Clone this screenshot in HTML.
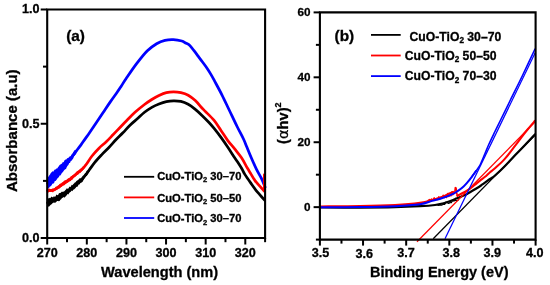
<!DOCTYPE html>
<html><head><meta charset="utf-8"><title>Absorbance and Tauc plot</title>
<style>html,body{margin:0;padding:0;background:#fff;}body{width:550px;height:285px;overflow:hidden;}svg{display:block;}text{font-family:"Liberation Sans",Arial,sans-serif;font-weight:bold;fill:#000;stroke:#000;stroke-width:0.3px;}</style>
</head><body>
<svg width="550" height="285" viewBox="0 0 550 285">
<rect x="0" y="0" width="550" height="285" fill="#fff"/>
<g fill="none" stroke-linejoin="round" stroke-linecap="round">
<path d="M47.60,202.80 C48.60,202.33 51.65,200.93 53.60,200.00 C55.55,199.07 57.42,198.30 59.30,197.20 C61.18,196.10 63.02,194.73 64.90,193.40 C66.78,192.07 68.70,190.70 70.60,189.20 C72.50,187.70 74.40,186.07 76.30,184.40 C78.20,182.73 80.38,180.87 82.00,179.20 C83.62,177.53 84.80,175.93 86.00,174.40 C87.20,172.87 87.73,172.02 89.20,170.00 C90.67,167.98 92.70,164.87 94.80,162.30 C96.90,159.73 99.45,157.07 101.80,154.60 C104.15,152.13 106.55,149.97 108.90,147.50 C111.25,145.03 113.57,142.25 115.90,139.80 C118.23,137.35 120.55,135.23 122.90,132.80 C125.25,130.37 127.60,127.53 130.00,125.20 C132.40,122.87 134.88,120.95 137.30,118.80 C139.72,116.65 142.08,114.22 144.50,112.30 C146.92,110.38 149.38,108.70 151.80,107.30 C154.22,105.90 156.57,104.85 159.00,103.90 C161.43,102.95 163.97,102.12 166.40,101.60 C168.83,101.08 171.18,100.83 173.60,100.80 C176.02,100.77 178.47,100.82 180.90,101.40 C183.33,101.98 185.85,103.02 188.20,104.30 C190.55,105.58 192.70,107.25 195.00,109.10 C197.30,110.95 199.67,113.17 202.00,115.40 C204.33,117.63 206.98,120.33 209.00,122.50 C211.02,124.67 212.10,125.92 214.10,128.40 C216.10,130.88 218.68,134.22 221.00,137.40 C223.32,140.58 225.75,144.15 228.00,147.50 C230.25,150.85 232.73,154.82 234.50,157.50 C236.27,160.18 237.35,161.68 238.60,163.60 C239.85,165.52 240.93,167.17 242.00,169.00 C243.07,170.83 243.37,172.02 245.00,174.60 C246.63,177.18 249.97,181.88 251.80,184.50 C253.63,187.12 254.68,188.62 256.00,190.30 C257.32,191.98 258.27,192.95 259.70,194.60 C261.13,196.25 263.78,199.27 264.60,200.20" stroke="#000" stroke-width="2.7"/>
<path d="M47.60,198.06 L48.40,198.56 L49.20,197.64 L50.00,198.33 L50.80,197.59 L51.60,196.54 L52.40,197.22 L53.20,197.30 L54.00,196.08 L54.80,196.91 L55.60,196.32 L56.40,194.58 L57.20,194.93 L58.00,195.26 L58.80,193.59 L59.60,193.10 L60.40,193.08 L61.20,192.36 L62.00,191.57 L62.80,192.11 L63.60,191.43 L64.40,191.19 L65.20,190.31 L66.00,189.50 L66.80,188.23 L67.60,188.82 L68.40,188.44 L69.20,187.09 L70.00,186.62 L70.80,186.93 L71.60,184.72 L72.40,185.16 L73.20,184.15 L74.00,183.58 L74.80,182.39 L75.60,182.27 L76.40,181.00 L77.20,180.60 L78.00,179.92 L78.80,179.19 L79.60,178.13 L80.40,178.59 L81.20,177.77 L82.00,177.44 L82.80,175.75 L83.60,175.74 L84.40,174.71 L85.20,173.00 L86.00,172.90 L86.80,170.71 L87.60,170.94 L88.40,170.14 L89.20,168.31 L90.00,167.67 L90.00,170.67 L89.20,171.94 L88.40,172.64 L87.60,174.41 L86.80,176.01 L86.00,176.06 L85.20,177.20 L84.40,178.59 L83.60,179.74 L82.80,181.38 L82.00,182.33 L81.20,182.68 L80.40,183.00 L79.60,184.50 L78.80,184.17 L78.00,185.76 L77.20,187.08 L76.40,186.67 L75.60,188.07 L74.80,188.71 L74.00,189.59 L73.20,189.84 L72.40,191.30 L71.60,190.52 L70.80,191.65 L70.00,192.31 L69.20,192.94 L68.40,194.43 L67.60,194.00 L66.80,195.10 L66.00,196.16 L65.20,196.87 L64.40,197.67 L63.60,197.12 L62.80,197.70 L62.00,197.93 L61.20,199.19 L60.40,199.84 L59.60,200.98 L58.80,201.25 L58.00,200.93 L57.20,200.92 L56.40,201.65 L55.60,202.50 L54.80,203.09 L54.00,202.37 L53.20,203.12 L52.40,203.37 L51.60,204.36 L50.80,204.65 L50.00,205.60 L49.20,206.55 L48.40,206.56 L47.60,207.40 Z" fill="#000" stroke="none"/>
<path d="M47.60,190.60 C48.60,190.52 51.65,190.80 53.60,190.10 C55.55,189.40 57.42,187.65 59.30,186.40 C61.18,185.15 63.02,183.87 64.90,182.60 C66.78,181.33 68.70,180.23 70.60,178.80 C72.50,177.37 74.40,175.58 76.30,174.00 C78.20,172.42 80.38,170.85 82.00,169.30 C83.62,167.75 84.33,166.92 86.00,164.70 C87.67,162.48 89.83,158.75 92.00,156.00 C94.17,153.25 96.67,150.53 99.00,148.20 C101.33,145.87 103.67,144.23 106.00,142.00 C108.33,139.77 110.67,137.22 113.00,134.80 C115.33,132.38 117.67,129.92 120.00,127.50 C122.33,125.08 124.50,122.83 127.00,120.30 C129.50,117.77 132.08,114.93 135.00,112.30 C137.92,109.67 141.70,106.63 144.50,104.50 C147.30,102.37 149.38,101.00 151.80,99.50 C154.22,98.00 156.57,96.65 159.00,95.50 C161.43,94.35 163.97,93.22 166.40,92.60 C168.83,91.98 171.18,91.80 173.60,91.80 C176.02,91.80 178.47,92.03 180.90,92.60 C183.33,93.17 185.80,93.87 188.20,95.20 C190.60,96.53 193.00,98.47 195.30,100.60 C197.60,102.73 200.38,106.25 202.00,108.00 C203.62,109.75 202.98,109.03 205.00,111.10 C207.02,113.17 211.43,117.17 214.10,120.40 C216.77,123.63 218.72,127.13 221.00,130.50 C223.28,133.87 225.52,137.53 227.80,140.60 C230.08,143.67 232.38,146.00 234.70,148.90 C237.02,151.80 239.57,154.77 241.70,158.00 C243.83,161.23 246.03,165.77 247.50,168.30 C248.97,170.83 249.25,171.15 250.50,173.20 C251.75,175.25 253.20,178.17 255.00,180.60 C256.80,183.03 259.77,186.07 261.30,187.80 C262.83,189.53 263.72,190.47 264.20,191.00" stroke="#f00" stroke-width="2.7"/>
<path d="M47.60,189.46 L48.40,188.44 L49.20,188.52 L50.00,188.91 L50.80,189.07 L51.60,189.06 L52.40,188.62 L53.20,188.63 L54.00,188.33 L54.80,187.96 L55.60,186.84 L56.40,186.83 L57.20,186.37 L58.00,185.85 L58.80,185.04 L59.60,184.05 L60.40,183.57 L61.20,183.67 L62.00,182.31 L62.80,182.29 L63.60,181.13 L64.40,180.57 L65.20,180.51 L66.00,179.88 L66.80,179.85 L67.60,178.77 L68.40,178.16 L69.20,177.88 L70.00,177.47 L70.80,176.32 L71.60,175.91 L72.40,175.29 L73.20,175.16 L74.00,173.94 L74.80,173.76 L75.60,172.74 L76.40,171.85 L77.20,171.05 L78.00,170.73 L78.80,170.19 L79.60,169.57 L80.40,168.63 L81.20,168.48 L82.00,167.75 L82.80,166.58 L83.60,166.21 L84.40,164.85 L85.20,164.18 L86.00,163.48 L86.00,166.52 L85.20,167.05 L84.40,168.43 L83.60,169.44 L82.80,170.28 L82.00,171.20 L81.20,171.83 L80.40,172.88 L79.60,172.77 L78.80,173.60 L78.00,174.86 L77.20,174.78 L76.40,175.77 L75.60,176.43 L74.80,176.91 L74.00,177.49 L73.20,178.57 L72.40,179.65 L71.60,179.81 L70.80,181.03 L70.00,181.13 L69.20,181.57 L68.40,182.26 L67.60,182.78 L66.80,183.04 L66.00,183.93 L65.20,184.32 L64.40,185.26 L63.60,185.39 L62.80,185.57 L62.00,186.74 L61.20,187.10 L60.40,187.75 L59.60,188.46 L58.80,188.63 L58.00,189.09 L57.20,189.80 L56.40,190.11 L55.60,190.23 L54.80,191.13 L54.00,191.10 L53.20,192.25 L52.40,192.31 L51.60,191.75 L50.80,191.72 L50.00,191.89 L49.20,191.71 L48.40,192.65 L47.60,191.84 Z" fill="#f00" stroke="none"/>
<path d="M47.60,183.20 C48.33,182.42 50.37,180.20 52.00,178.50 C53.63,176.80 55.90,174.55 57.40,173.00 C58.90,171.45 59.75,170.45 61.00,169.20 C62.25,167.95 63.30,167.27 64.90,165.50 C66.50,163.73 68.65,161.08 70.60,158.60 C72.55,156.12 74.90,152.85 76.60,150.60 C78.30,148.35 79.40,147.02 80.80,145.10 C82.20,143.18 83.55,141.15 85.00,139.10 C86.45,137.05 87.57,135.60 89.50,132.80 C91.43,130.00 94.30,125.72 96.60,122.30 C98.90,118.88 101.02,115.70 103.30,112.30 C105.58,108.90 107.97,105.28 110.30,101.90 C112.63,98.52 115.43,94.70 117.30,92.00 C119.17,89.30 120.05,87.90 121.50,85.70 C122.95,83.50 123.48,82.47 126.00,78.80 C128.52,75.13 133.08,68.33 136.60,63.70 C140.12,59.07 143.77,54.33 147.10,51.00 C150.43,47.67 153.62,45.48 156.60,43.70 C159.58,41.92 162.20,40.98 165.00,40.30 C167.80,39.62 170.60,39.48 173.40,39.60 C176.20,39.72 179.77,40.43 181.80,41.00 C183.83,41.57 184.27,42.27 185.60,43.00 C186.93,43.73 188.40,44.12 189.80,45.40 C191.20,46.68 192.58,48.87 194.00,50.70 C195.42,52.53 196.88,54.52 198.30,56.40 C199.72,58.28 201.10,60.10 202.50,62.00 C203.90,63.90 205.30,65.73 206.70,67.80 C208.10,69.87 209.60,72.22 210.90,74.40 C212.20,76.58 212.67,77.50 214.50,80.90 C216.33,84.30 219.45,89.95 221.90,94.80 C224.35,99.65 226.67,104.72 229.20,110.00 C231.73,115.28 234.72,121.67 237.10,126.50 C239.48,131.33 241.92,135.67 243.50,139.00 C245.08,142.33 245.27,143.28 246.60,146.50 C247.93,149.72 249.87,154.52 251.50,158.30 C253.13,162.08 254.77,165.88 256.40,169.20 C258.03,172.52 259.87,175.23 261.30,178.20 C262.73,181.17 264.38,185.53 265.00,187.00" stroke="#00f" stroke-width="2.75"/>
<path d="M47.60,177.56 L48.40,176.72 L49.20,175.40 L50.00,174.50 L50.80,173.10 L51.60,172.37 L52.40,171.23 L53.20,171.69 L54.00,170.59 L54.80,169.57 L55.60,169.59 L56.40,168.62 L57.20,168.43 L58.00,167.30 L58.80,166.21 L59.60,164.99 L60.40,164.52 L61.20,163.99 L62.00,163.41 L62.80,161.90 L63.60,162.37 L64.40,160.43 L65.20,159.60 L66.00,159.85 L66.80,158.70 L67.60,157.90 L68.40,158.07 L69.20,156.42 L70.00,156.65 L70.80,155.97 L71.60,154.58 L72.40,153.79 L73.20,152.14 L74.00,151.06 L74.80,150.12 L75.60,150.44 L76.40,149.77 L76.40,153.32 L75.60,154.62 L74.80,155.58 L74.00,156.12 L73.20,158.38 L72.40,159.58 L71.60,160.79 L70.80,160.82 L70.00,162.88 L69.20,163.01 L68.40,165.01 L67.60,165.77 L66.80,167.10 L66.00,169.12 L65.20,169.34 L64.40,170.03 L63.60,171.09 L62.80,172.20 L62.00,172.83 L61.20,174.18 L60.40,175.59 L59.60,175.39 L58.80,177.36 L58.00,177.76 L57.20,178.69 L56.40,180.12 L55.60,181.03 L54.80,181.04 L54.00,183.22 L53.20,183.62 L52.40,183.87 L51.60,185.34 L50.80,186.14 L50.00,186.39 L49.20,187.73 L48.40,187.94 L47.60,190.31 Z" fill="#00f" stroke="none"/>
<path d="M263.9,174.5 L263.9,190.5" stroke="#f00" stroke-width="1.8"/>
</g>
<g stroke="#000" stroke-width="2.1" fill="none" stroke-linecap="square">
<path d="M47.2,9.5 H265.1 V238.0 H47.2 Z"/>
</g>
<g stroke="#000" stroke-width="2" fill="none">
<line x1="47.20" y1="238.00" x2="47.20" y2="244.50"/>
<line x1="67.01" y1="238.00" x2="67.01" y2="242.20"/>
<line x1="86.82" y1="238.00" x2="86.82" y2="244.50"/>
<line x1="106.63" y1="238.00" x2="106.63" y2="242.20"/>
<line x1="126.44" y1="238.00" x2="126.44" y2="244.50"/>
<line x1="146.25" y1="238.00" x2="146.25" y2="242.20"/>
<line x1="166.05" y1="238.00" x2="166.05" y2="244.50"/>
<line x1="185.86" y1="238.00" x2="185.86" y2="242.20"/>
<line x1="205.67" y1="238.00" x2="205.67" y2="244.50"/>
<line x1="225.48" y1="238.00" x2="225.48" y2="242.20"/>
<line x1="245.29" y1="238.00" x2="245.29" y2="244.50"/>
<line x1="265.10" y1="238.00" x2="265.10" y2="242.20"/>
<line x1="47.20" y1="238.00" x2="40.70" y2="238.00"/>
<line x1="47.20" y1="180.88" x2="43.00" y2="180.88"/>
<line x1="47.20" y1="123.75" x2="40.70" y2="123.75"/>
<line x1="47.20" y1="66.62" x2="43.00" y2="66.62"/>
<line x1="47.20" y1="9.50" x2="40.70" y2="9.50"/>
</g>
<g font-size="12.6" text-anchor="end">
<text x="39.4" y="241.90">0.0</text>
<text x="39.4" y="127.65">0.5</text>
<text x="39.4" y="13.40">1.0</text>
</g>
<g font-size="12.6" text-anchor="middle">
<text x="47.20" y="257">270</text>
<text x="86.82" y="257">280</text>
<text x="126.44" y="257">290</text>
<text x="166.05" y="257">300</text>
<text x="205.67" y="257">310</text>
<text x="245.29" y="257">320</text>
</g>
<text x="159.6" y="277.2" font-size="14.6" text-anchor="middle">Wavelength (nm)</text>
<text transform="translate(17.4,130.7) rotate(-90)" font-size="15" text-anchor="middle">Absorbance (a.u)</text>
<text x="66.2" y="41.3" font-size="15.4">(a)</text>
<line x1="124" y1="176.8" x2="154.2" y2="176.8" stroke="#000" stroke-width="1.8"/>
<text x="157.2" y="179.9" font-size="11.2">CuO-TiO<tspan font-size="7.6" dy="2.4">2</tspan><tspan dy="-2.4"> 30–70</tspan></text>
<line x1="124" y1="197.4" x2="154.2" y2="197.4" stroke="#f00" stroke-width="1.8"/>
<text x="157.2" y="201.6" font-size="11.2">CuO-TiO<tspan font-size="7.6" dy="2.4">2</tspan><tspan dy="-2.4"> 50–50</tspan></text>
<line x1="124" y1="218.0" x2="154.2" y2="218.0" stroke="#00f" stroke-width="1.8"/>
<text x="157.2" y="222.2" font-size="11.2">CuO-TiO<tspan font-size="7.6" dy="2.4">2</tspan><tspan dy="-2.4"> 30–70</tspan></text>
<g fill="none" stroke-linejoin="round" stroke-linecap="round">
<path d="M320.80,207.50 C327.33,207.52 347.63,207.65 360.00,207.60 C372.37,207.55 385.00,207.43 395.00,207.20 C405.00,206.97 413.33,206.57 420.00,206.20 C426.67,205.83 431.25,205.45 435.00,205.00 C438.75,204.55 439.50,204.33 442.50,203.50 C445.50,202.67 450.72,200.82 453.00,200.00 C455.28,199.18 454.43,199.35 456.20,198.60 C457.97,197.85 461.80,196.28 463.60,195.50 C465.40,194.72 465.93,194.43 467.00,193.90 C468.07,193.37 468.67,193.07 470.00,192.30 C471.33,191.53 473.17,190.43 475.00,189.30 C476.83,188.17 478.50,187.22 481.00,185.50 C483.50,183.78 487.67,180.67 490.00,179.00 C492.33,177.33 492.50,177.67 495.00,175.50 C497.50,173.33 501.67,169.38 505.00,166.00 C508.33,162.62 511.67,158.70 515.00,155.20 C518.33,151.70 521.67,148.48 525.00,145.00 C528.33,141.52 533.33,136.08 535.00,134.30" stroke="#000" stroke-width="2.2"/>
<path d="M320.80,206.50 C327.33,206.45 347.63,206.43 360.00,206.20 C372.37,205.97 385.00,205.65 395.00,205.10 C405.00,204.55 413.83,203.72 420.00,202.90 C426.17,202.08 428.25,201.22 432.00,200.20 C435.75,199.18 439.87,197.80 442.50,196.80 C445.13,195.80 446.05,195.00 447.80,194.20 C449.55,193.40 452.13,192.37 453.00,192.00" stroke="#f00" stroke-width="2.2"/>
<path d="M457.30,195.60 C457.75,195.40 458.95,194.92 460.00,194.40 C461.05,193.88 462.43,193.13 463.60,192.50 C464.77,191.87 465.93,191.25 467.00,190.60 C468.07,189.95 468.67,189.60 470.00,188.60 C471.33,187.60 473.33,185.93 475.00,184.60 C476.67,183.27 478.33,181.90 480.00,180.60 C481.67,179.30 483.33,178.20 485.00,176.80 C486.67,175.40 488.33,173.63 490.00,172.20 C491.67,170.77 492.50,170.47 495.00,168.20 C497.50,165.93 501.67,162.33 505.00,158.60 C508.33,154.87 512.23,149.40 515.00,145.80 C517.77,142.20 519.43,139.80 521.60,137.00 C523.77,134.20 525.77,131.70 528.00,129.00 C530.23,126.30 533.83,122.17 535.00,120.80" stroke="#f00" stroke-width="2.1"/>
<path d="M428,200.6 L429.4,199.6 L430.4,200.5 L431.6,199.0 L432.8,200.2 L434.2,197.9 L435.4,199.7 L436.2,198.6 L437.4,199.5 L438.8,196.8 L439.8,198.9 L441.0,197.6 L442.2,198.2 L443.2,195.2 L444.2,197.6 L445.6,196.4 L446.6,197.4 L447.8,193.4 L448.8,196.4 L450.0,195.0 L451.0,195.8 L452.0,191.8 L452.8,194.8 L453.8,192.6 L454.6,193.4 L455.3,187.6 L456.1,187.9 L456.8,193.8 L457.6,196.2 L459,195.2" stroke="#f00" stroke-width="1.5"/>
<path d="M438.00,205.29 L439.33,205.26 L440.67,205.07 L442.00,205.10 L443.33,204.30 L444.67,204.41 L446.00,201.95 L447.33,202.68 L448.67,203.50 L450.00,202.48 L451.33,202.76 L452.67,200.55 L454.00,201.09 L455.33,200.23 L456.67,200.63 L458.00,200.38" stroke="#000" stroke-width="1.2"/>
<path d="M320.80,207.30 C327.33,207.27 347.63,207.28 360.00,207.10 C372.37,206.92 385.00,206.68 395.00,206.20 C405.00,205.72 413.83,205.08 420.00,204.20 C426.17,203.32 428.25,201.93 432.00,200.90 C435.75,199.87 439.00,199.17 442.50,198.00 C446.00,196.83 450.37,195.13 453.00,193.90 C455.63,192.67 456.53,191.85 458.30,190.60 C460.07,189.35 462.05,187.82 463.60,186.40 C465.15,184.98 466.23,183.70 467.60,182.10 C468.97,180.50 470.40,178.65 471.80,176.80 C473.20,174.95 475.30,171.97 476.00,171.00" stroke="#00f" stroke-width="2.0"/>
<path d="M471.80,176.80 C472.50,175.83 474.58,173.05 476.00,171.00 C477.42,168.95 478.83,167.33 480.30,164.50 C481.77,161.67 483.35,157.42 484.80,154.00 C486.25,150.58 487.35,147.67 489.00,144.00 C490.65,140.33 492.77,136.00 494.70,132.00 C496.63,128.00 497.98,125.33 500.60,120.00 C503.22,114.67 506.75,107.42 510.40,100.00 C514.05,92.58 518.40,84.00 522.50,75.50 C526.60,67.00 532.92,53.42 535.00,49.00" stroke="#00f" stroke-width="1.6"/>
</g>
<g fill="none" stroke-width="1.25">
<path d="M433.20,238.80 L535.20,135.00" stroke="#000"/>
<path d="M417.00,241.80 L535.20,121.80" stroke="#f00"/>
<path d="M445.00,238.80 L535.20,52.80" stroke="#00f"/>
</g>
<g stroke="#000" stroke-width="2.1" fill="none" stroke-linecap="square">
<path d="M319.9,12.4 H535.6 V239.6 H319.9 Z"/>
</g>
<g stroke="#000" stroke-width="2" fill="none">
<line x1="319.90" y1="239.60" x2="319.90" y2="245.60"/>
<line x1="341.47" y1="239.60" x2="341.47" y2="243.60"/>
<line x1="363.04" y1="239.60" x2="363.04" y2="245.60"/>
<line x1="384.61" y1="239.60" x2="384.61" y2="243.60"/>
<line x1="406.18" y1="239.60" x2="406.18" y2="245.60"/>
<line x1="427.75" y1="239.60" x2="427.75" y2="243.60"/>
<line x1="449.32" y1="239.60" x2="449.32" y2="245.60"/>
<line x1="470.89" y1="239.60" x2="470.89" y2="243.60"/>
<line x1="492.46" y1="239.60" x2="492.46" y2="245.60"/>
<line x1="514.03" y1="239.60" x2="514.03" y2="243.60"/>
<line x1="535.60" y1="239.60" x2="535.60" y2="245.60"/>
<line x1="319.90" y1="239.60" x2="315.90" y2="239.60"/>
<line x1="319.90" y1="207.14" x2="313.60" y2="207.14"/>
<line x1="319.90" y1="174.69" x2="315.90" y2="174.69"/>
<line x1="319.90" y1="142.23" x2="313.60" y2="142.23"/>
<line x1="319.90" y1="109.77" x2="315.90" y2="109.77"/>
<line x1="319.90" y1="77.31" x2="313.60" y2="77.31"/>
<line x1="319.90" y1="44.86" x2="315.90" y2="44.86"/>
<line x1="319.90" y1="12.40" x2="313.60" y2="12.40"/>
</g>
<g font-size="11.7" text-anchor="end">
<text x="310.6" y="211.04">0</text>
<text x="310.6" y="146.13">20</text>
<text x="310.6" y="81.21">40</text>
<text x="310.6" y="16.30">60</text>
</g>
<g font-size="12.6" text-anchor="middle">
<text x="320.60" y="257.20">3.5</text>
<text x="364.20" y="258.40">3.6</text>
<text x="406.10" y="257.20">3.7</text>
<text x="451.20" y="257.20">3.8</text>
<text x="492.30" y="257.20">3.9</text>
<text x="534.80" y="257.20">4.0</text>
</g>
<text x="439.2" y="277" font-size="14.5" text-anchor="middle">Binding Energy (eV)</text>
<text transform="translate(287.9,123.2) rotate(-90)" font-size="14.6" text-anchor="middle">(<tspan font-weight="normal" font-family="DejaVu Sans, sans-serif">α</tspan>hv)<tspan font-size="9" dy="-6.8">2</tspan></text>
<text x="334.6" y="40.9" font-size="15.4">(b)</text>
<line x1="371" y1="34.9" x2="400.7" y2="34.9" stroke="#000" stroke-width="1.8"/>
<text x="409.5" y="40.5" font-size="12.2">CuO-TiO<tspan font-size="8.2" dy="2.5">2</tspan><tspan dy="-2.5"> 30–70</tspan></text>
<line x1="371" y1="55.5" x2="400.7" y2="55.5" stroke="#f00" stroke-width="1.8"/>
<text x="404.8" y="59.7" font-size="12.2">CuO-TiO<tspan font-size="8.2" dy="2.5">2</tspan><tspan dy="-2.5"> 50–50</tspan></text>
<line x1="371" y1="76.1" x2="400.7" y2="76.1" stroke="#00f" stroke-width="1.8"/>
<text x="404.8" y="80.1" font-size="12.2">CuO-TiO<tspan font-size="8.2" dy="2.5">2</tspan><tspan dy="-2.5"> 70–30</tspan></text>
</svg>
</body></html>
